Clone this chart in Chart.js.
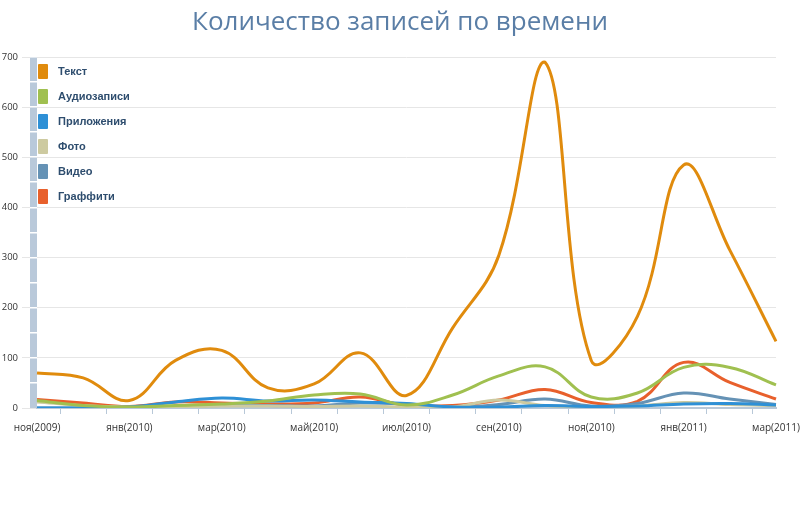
<!DOCTYPE html>
<html>
<head>
<meta charset="utf-8">
<script src="https://cdn.jsdelivr.net/npm/chart.js@4.4.0/dist/chart.umd.min.js"></script>
<style>
  body { margin: 0; background: #fff; }
  #wrap { position: relative; width: 800px; height: 520px; }
  #legend { position: absolute; left: 38px; top: 64px; font: bold 11px "Liberation Sans", Arial, sans-serif; color: #2e4d6e; }
  #legend .item { height: 25px; display: flex; align-items: flex-start; }
  #legend .sw { width: 10px; height: 15px; border-radius: 1px; margin-right: 10px; }
  #legend .lbl { line-height: 15px; }
</style>
</head>
<body>
<div id="wrap">
  <canvas id="chart" width="800" height="520"></canvas>
  <div id="legend"></div>
</div>
<script>
// месяцы, подписи оси X
const months = ['ноя(2009)', 'дек(2009)', 'янв(2010)', 'фев(2010)', 'мар(2010)', 'апр(2010)', 'май(2010)', 'июн(2010)', 'июл(2010)',
    'авг(2010)', 'сен(2010)', 'окт(2010)', 'ноя(2010)', 'дек(2010)', 'янв(2011)', 'фев(2011)', 'мар(2011)'];

const textPosts  = [70, 60, 15, 95, 115, 40, 48, 110, 25, 160, 305, 690, 95, 183, 485, 315, 133];
const audioPosts = [15, 5, 2, 5, 8, 14, 26, 28, 6, 26, 64, 82, 22, 30, 81, 81, 46];
const appPosts   = [0, 0, 2, 12, 20, 14, 16, 12, 9, 2, 2, 5, 3, 4, 8, 9, 6];
const photoPosts = [12, 5, 2, 2, 4, 4, 3, 4, 2, 2, 16, 5, 3, 4, 11, 7, 5];
const videoPosts = [0, 0, 0, 2, 5, 5, 4, 10, 8, 2, 7, 18, 4, 9, 30, 18, 7];
const graffiti   = [17, 10, 3, 12, 10, 8, 10, 22, 5, 5, 16, 37, 11, 13, 91, 51, 18];

const seriesNames = ['Текст', 'Аудиозаписи', 'Приложения', 'Фото', 'Видео', 'Граффити'];
const seriesColors = ['#e08b0d', '#a0c050', '#2e90d6', '#cdcaa0', '#6592b5', '#e8602c'];
const seriesData = [textPosts, audioPosts, appPosts, photoPosts, videoPosts, graffiti];

// серая полоса слева от области графика
const sideBar = {
    id: 'sideBar',
    beforeDatasetsDraw(chart) {
        const { ctx, chartArea, scales } = chart;
        ctx.save();
        ctx.fillStyle = '#b9c9da';
        ctx.fillRect(chartArea.left - 7, chartArea.top, 7, chartArea.bottom - chartArea.top);
        ctx.fillStyle = '#ffffff';
        for (let v = 50; v <= 700; v += 50) {
            const y = Math.round(scales.y.getPixelForValue(v));
            ctx.fillRect(chartArea.left - 7, y - 1, 7, 1.5);
        }
        ctx.restore();
    }
};

const datasets = seriesNames.map((name, i) => ({
    label: name,
    data: seriesData[i],
    borderColor: seriesColors[i],
    backgroundColor: seriesColors[i],
    borderWidth: 3,
    pointRadius: 0,
    tension: 0.4,
    fill: false
}));

new Chart(document.getElementById('chart').getContext('2d'), {
    type: 'line',
    data: { labels: months, datasets: datasets },
    options: {
        responsive: false,
        animation: false,
        layout: { padding: { left: 0, right: 0, bottom: 78, top: 0 } },
        plugins: {
            legend: { display: false },
            tooltip: { enabled: false },
            title: {
                display: true,
                text: 'Количество записей по времени',
                color: '#5a7ea6',
                font: { family: '"Open Sans", sans-serif', size: 26, weight: 'normal' },
                padding: { top: 7, bottom: 19 }
            }
        },
        scales: {
            x: {
                type: 'category',
                offset: false,
                afterFit: (scale) => { scale.paddingRight = 24; },
                grid: { offset: true, drawOnChartArea: false, drawTicks: true, tickLength: 6, color: '#b8c8d8' },
                border: { color: '#b8c8d8', width: 2 },
                ticks: {
                    autoSkip: false,
                    maxRotation: 0,
                    padding: 8,
                    color: '#333',
                    font: { family: '"Open Sans", sans-serif', size: 10 },
                    callback: function(val, i) { return i % 2 === 0 ? this.getLabelForValue(val) : ''; }
                }
            },
            y: {
                min: 0,
                max: 700,
                afterFit: (scale) => { scale.width = 37; },
                grid: { color: '#e6e6e6', tickLength: 15 },
                border: { display: false },
                ticks: {
                    stepSize: 100,
                    padding: 4,
                    color: '#333',
                    font: { family: '"Open Sans", sans-serif', size: 9.5 }
                }
            }
        }
    },
    plugins: [sideBar]
});

// легенда внутри области графика
const legendEl = document.getElementById('legend');
seriesNames.forEach((name, i) => {
    const item = document.createElement('div');
    item.className = 'item';
    item.innerHTML = '<div class="sw" style="background:' + seriesColors[i] + '"></div><span class="lbl">' + name + '</span>';
    legendEl.appendChild(item);
});
</script>
</body>
</html>
